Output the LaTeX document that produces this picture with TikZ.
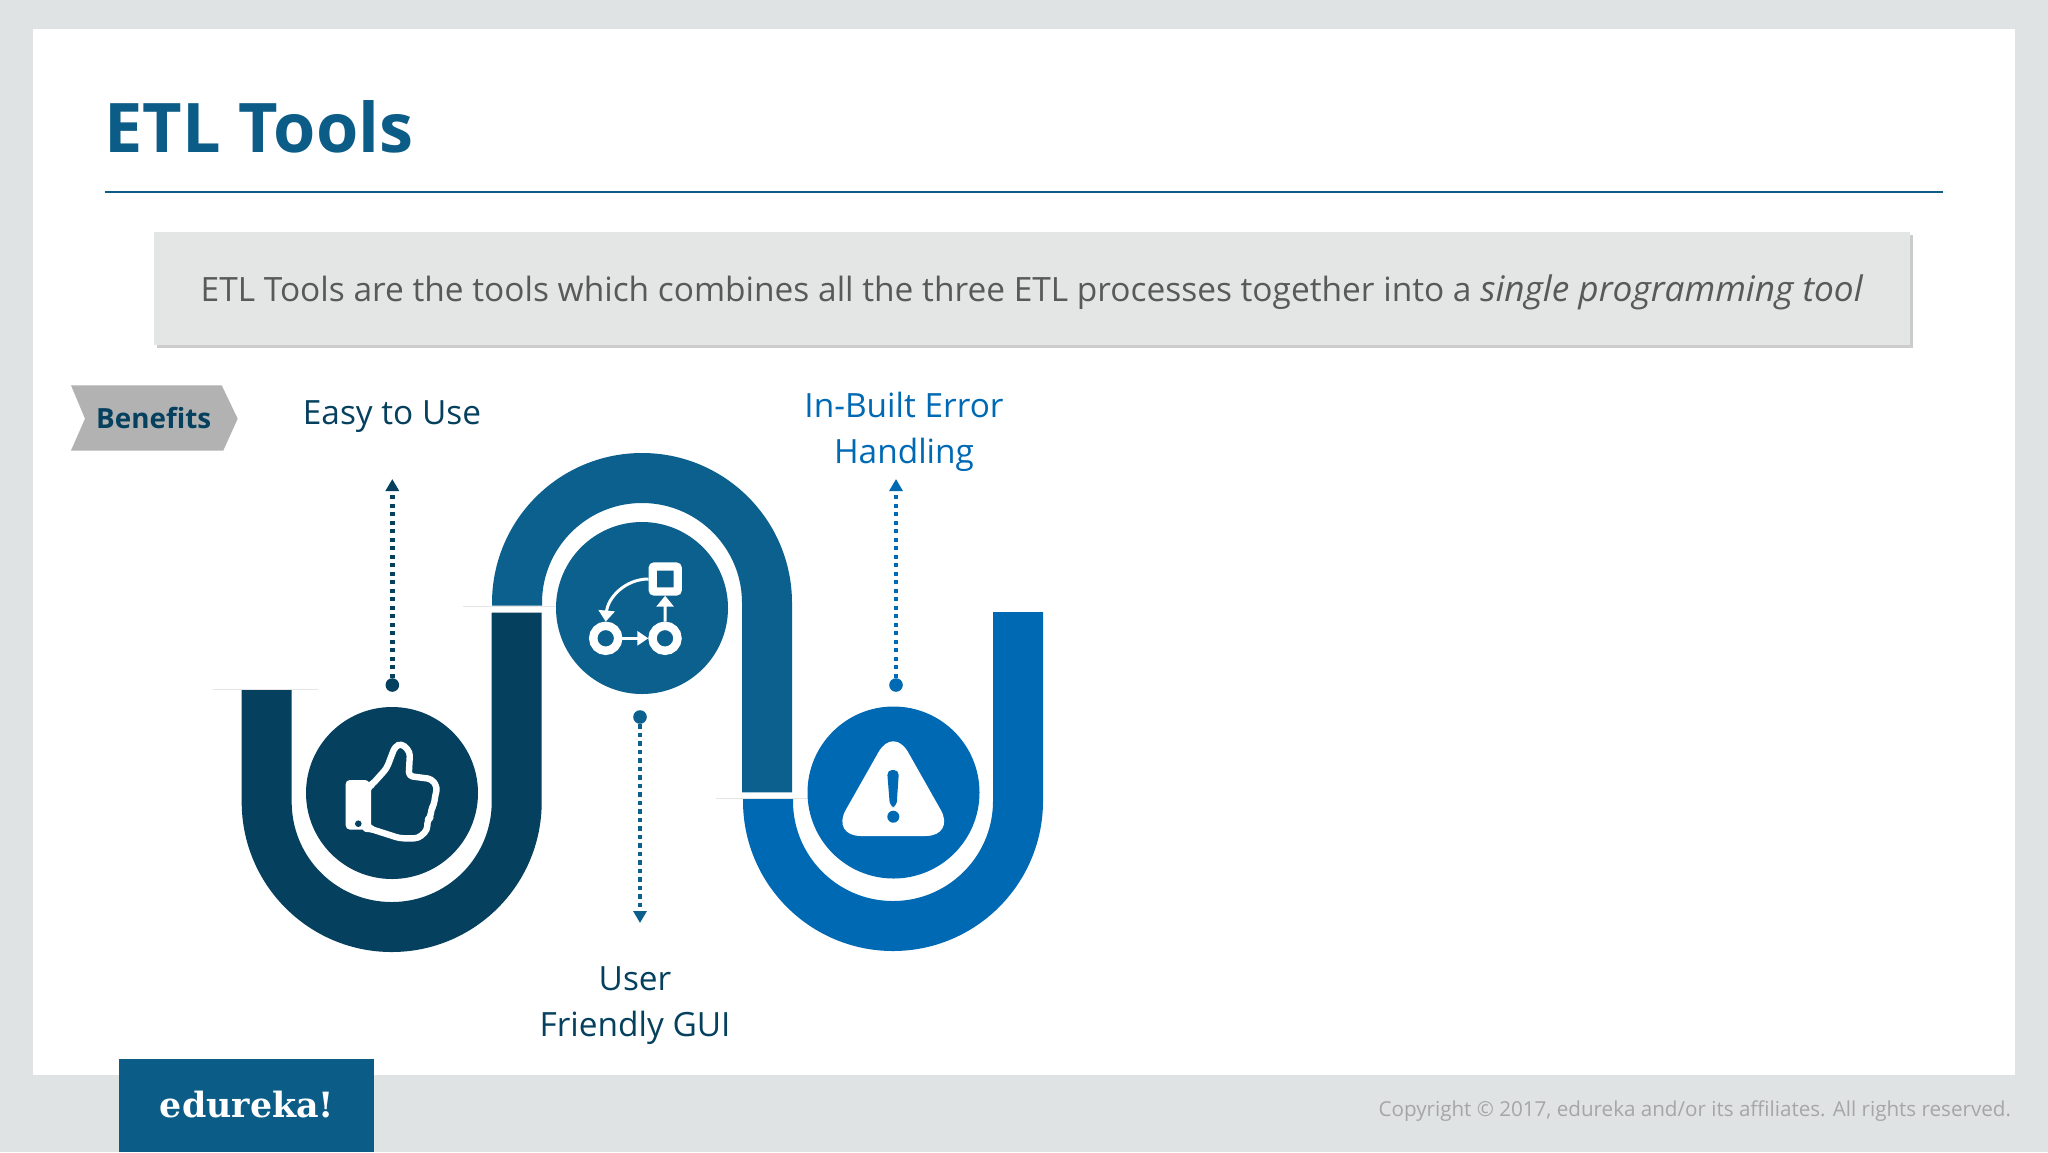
\documentclass[tikz,border=0pt]{standalone}
\usepackage{fontspec}
\setmainfont{Open Sans}
\newfontfamily\logofont{DejaVu Serif}
\usetikzlibrary{positioning,arrows.meta,shadows}
\definecolor{slidegrey}{HTML}{DFE3E3}
\definecolor{boxgrey}{HTML}{E4E5E5}
\definecolor{tealblue}{HTML}{0B5C86}
\definecolor{darkblue}{HTML}{05405F}
\definecolor{midblue}{HTML}{0C608E}
\definecolor{lightblue}{HTML}{0069B4}
\begin{document}
\begin{tikzpicture}[x=0.5pt,y=-0.5pt,
                    band/.style={line width=25pt},
                    disc/.style={circle,inner sep=0pt,minimum size=86pt},
                    dot/.style={circle,inner sep=0pt,minimum size=6.8pt},
                    link/.style={line width=2.2pt,dash pattern=on 2.15pt off 2.1pt,-{Triangle[width=6.5pt,length=6pt]}},
                    caption/.style={align=center,font=\fontsize{16.7}{23}\selectfont},
                    ring/.style={circle,draw=white,line width=4.2pt,inner sep=0pt,minimum size=12.5pt},
                    iconline/.style={white,line width=1.5pt}]

\useasboundingbox (0,0) rectangle (2048,1152);
\fill[slidegrey] (0,0) rectangle (2048,1152);
\fill[white] (32.7,28.7) rectangle (2015,1075);

\node[anchor=west,text=tealblue,font=\fontsize{34.2}{40}\selectfont\bfseries] (title) at (97.5,127) {ETL Tools};
\draw[tealblue,line width=0.8pt] (104.5,192) -- (1943,192);

\node[fill=boxgrey,minimum width=878pt,minimum height=56.5pt,inner sep=0pt,text=black!65,text depth=0pt,
      font=\fontsize{16.73}{20}\selectfont,drop shadow={shadow xshift=1.5pt,shadow yshift=-1.5pt,opacity=.4}] (intro) at (1032,288.5)
      {ETL Tools are the tools which combines all the three ETL processes together into a \textit{\fontsize{17.6}{20}\selectfont single programming tool}};

\fill[black!30] (71,385.3) -- (221.7,385.3) -- (237.7,418.7) -- (223.3,450.5) -- (71,450.5) -- (85,418.7) -- cycle;
\node[text=darkblue,font=\fontsize{13.9}{18}\selectfont\bfseries] (benefits) at (153.7,418) {Benefits};

% faint guide lines
\draw[black!10,line width=0.4pt] (213,689.5) -- (318,689.5);
\draw[black!10,line width=0.4pt] (463,606) -- (560,606);
\draw[black!10,line width=0.4pt] (716,798) -- (808,798);

% the three bends
\draw[band,darkblue] (266.7,690) -- (266.7,802) arc[start angle=180,end angle=0,radius=125] -- (516.7,612.5);
\draw[band,midblue] (517,605.5) -- (517,603) arc[start angle=180,end angle=360,radius=125] -- (767,792.3);
\draw[band,lightblue] (768,799) -- (768,801) arc[start angle=180,end angle=0,radius=125] -- (1018,612);

\node[disc,fill=darkblue] (easy) at (392,793) {};
\node[disc,fill=midblue] (gui) at (642,608) {};
\node[disc,fill=lightblue] (error) at (893.5,792.5) {};

% thumb
\draw[white,line width=3.2pt,fill=darkblue,rounded corners=2pt,line join=round]
    (368,786) -- (371.7,785) -- (386.7,768.3) -- (395,746.5) -- (401.7,743.5) -- (410,752) -- (408.7,776)
    -- (431.7,779) -- (437.3,787.3) -- (435,796.7) -- (434,805) -- (430.7,810) -- (431,817) -- (427.3,820)
    -- (427.3,830) -- (418.3,838.3) -- (400,838.3) -- (370,828.7) -- (368,828.7) -- cycle;
\fill[white,rounded corners=2pt] (345.7,780) rectangle (369.3,829.5);
\fill[darkblue] (358.3,823.7) circle (3.3);

% flow icon
\node[ring] (left) at (605.7,638.3) {};
\node[ring] (right) at (665,638.3) {};
\node[rectangle,draw=white,line width=4.2pt,rounded corners=1pt,inner sep=0pt,minimum size=12.5pt] (square) at (665.2,579) {};
\draw[iconline,-{Triangle[width=7pt,length=5.5pt]}] (left) -- (right);
\draw[iconline,-{Triangle[width=8.5pt,length=5.5pt]}] (right) -- (square);
\draw[iconline,-{Triangle[width=8pt,length=5.5pt]}] (square.west) to[out=180,in=85] (left.north);

% warning sign
\fill[white,rounded corners=15pt] (893.3,726) -- (955.5,836) -- (831,836) -- cycle;
\fill[lightblue,rounded corners=2.5pt] (887,770) -- (899,770) -- (896.5,807) -- (890,807) -- cycle;
\fill[lightblue] (893.3,816.7) circle (6);

% captions and their arrows
\node[dot,fill=darkblue] (dotEasy) at (392.3,685) {};
\coordinate (tipEasy) at (392.3,479);
\draw[link,darkblue] (dotEasy) -- (tipEasy);
\node[caption,text=darkblue] (capEasy) at (392,417) {Easy to Use};

\node[dot,fill=midblue] (dotGui) at (640,717) {};
\coordinate (tipGui) at (640,923);
\draw[link,midblue] (dotGui) -- (tipGui);
\node[caption,text=darkblue] (capGui) at (635,1006) {User\\Friendly GUI};

\node[dot,fill=lightblue] (dotError) at (896,685) {};
\coordinate (tipError) at (896,479);
\draw[link,lightblue] (dotError) -- (tipError);
\node[caption,text=lightblue] (capError) at (904,432) {In-Built Error\\Handling};

\fill[tealblue] (118.7,1058.7) rectangle (373.7,1152);
\node[text=white,font=\logofont\fontsize{17.4}{24}\selectfont\bfseries] (logo) at (247,1105) {edureka!};
\node[anchor=east,text=black!35,font=\fontsize{10.3}{12}\selectfont] (copy) at (2018,1111) {Copyright © 2017, edureka and/or its affiliates. All rights reserved.};
\end{tikzpicture}
\end{document}
